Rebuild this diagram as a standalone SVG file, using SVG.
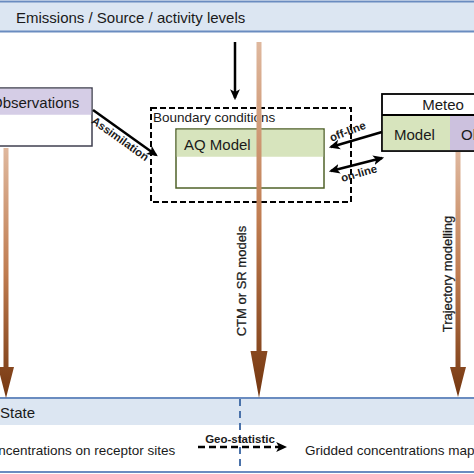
<svg xmlns="http://www.w3.org/2000/svg" width="474" height="474" viewBox="0 0 474 474">
<style>
text{font-family:"Liberation Sans",Arial,sans-serif;fill:#1a1a1a}
.t15{font-size:15px}
.lbl{font-size:11.3px;font-weight:bold}
.rot{font-size:13px;stroke:#1a1a1a;stroke-width:0.25}
.band{fill:#dce6f2}
.bline{stroke:#6a8cc0;stroke-width:2}
.conn{stroke:#000;stroke-width:2.5;fill:none}
.dash{stroke:#000;stroke-width:2.5;fill:none;stroke-dasharray:7,4}
.brown{fill:url(#brownGrad)}
</style>
<defs>
<linearGradient id="brownGrad" x1="0" y1="0" x2="0" y2="1">
<stop offset="0" stop-color="#dfb89e"/>
<stop offset="0.5" stop-color="#c07c50"/>
<stop offset="1" stop-color="#74360f"/>
</linearGradient>
<marker id="ah" viewBox="0 0 10 10" refX="8" refY="5" markerUnits="userSpaceOnUse" markerWidth="11" markerHeight="11" orient="auto-start-reverse">
<path d="M0,0.5 L10,5 L0,9.5 L2.5,5 z" fill="#000"/>
</marker>
</defs>

<g id="emissions">
<rect x="-2" y="1.5" width="478" height="30" class="band"/>
<line x1="-2" y1="1.5" x2="476" y2="1.5" class="bline"/>
<line x1="-2" y1="31.5" x2="476" y2="31.5" class="bline"/>
<text x="16" y="23" class="t15">Emissions / Source / activity levels</text>
</g>

<g id="observations">
<rect x="-10" y="88" width="102" height="58" fill="#fff" stroke="#3f3f4f" stroke-width="1.5"/>
<rect x="-9" y="88.75" width="100.25" height="26" fill="#d5cde6"/>
<text x="-9" y="108" class="t15">Observations</text>
</g>

<g id="boundary">
<rect x="151" y="108" width="200" height="94" fill="none" stroke="#000" stroke-width="2" stroke-dasharray="6,3"/>
<text x="153" y="122" style="font-size:13.5px">Boundary conditions</text>
</g>

<g id="aqmodel">
<rect x="176" y="129" width="148" height="59" fill="#fff" stroke="#4f6228" stroke-width="1.5"/>
<rect x="176.75" y="129.75" width="146.5" height="27" fill="#d7e4bd"/>
<text x="184" y="150" class="t15">AQ Model</text>
</g>

<g id="meteo">
<rect x="382" y="94" width="100" height="57" fill="#fff" stroke="#000" stroke-width="1.8"/>
<rect x="382.9" y="115" width="67.1" height="35.1" fill="#d7e4bd"/>
<rect x="450" y="115" width="30" height="35.1" fill="#ccc1de"/>
<line x1="382" y1="115" x2="482" y2="115" stroke="#000" stroke-width="1.8"/>
<text x="443" y="110" class="t15" text-anchor="middle">Meteo</text>
<text x="394" y="140" class="t15">Model</text>
<text x="461" y="140" class="t15">Observations</text>
</g>

<g id="state">
<rect x="-2" y="398" width="478" height="74" fill="#fff"/>
<rect x="-2" y="398" width="478" height="27" class="band"/>
<line x1="-2" y1="398" x2="476" y2="398" class="bline"/>
<line x1="-2" y1="472" x2="476" y2="472" class="bline"/>
<line x1="240" y1="399" x2="240" y2="471" stroke="#4a72aa" stroke-width="2" stroke-dasharray="7,5"/>
<text x="0" y="418" class="t15">State</text>
<text x="-19" y="455" style="font-size:13.5px">Concentrations on receptor sites</text>
<text x="305" y="455" style="font-size:13.5px">Gridded concentrations map</text>
</g>

<g id="connectors">
<line x1="235" y1="42" x2="235" y2="98" class="conn" marker-end="url(#ah)"/>
<line x1="93" y1="110" x2="156" y2="155" class="conn" marker-end="url(#ah)"/>
<line x1="382" y1="132" x2="331" y2="147" class="conn" marker-end="url(#ah)"/>
<line x1="331" y1="171" x2="382" y2="158" class="conn" marker-start="url(#ah)" marker-end="url(#ah)"/>
<line x1="198" y1="447" x2="285" y2="447" class="dash" marker-end="url(#ah)"/>
<path class="brown" d="M256.5,42 H261.5 V351 H267.5 L259,398 L250.5,351 H256.5 Z"/>
<path class="brown" d="M3.5,148 H8.5 V367 H14 L6,398 L-2,367 H3.5 Z"/>
<path class="brown" d="M455.5,152 H460.5 V367 H466 L458,397 L450,367 H455.5 Z"/>
<text class="lbl" text-anchor="middle" transform="translate(118,142) rotate(35.5)">Assimilation</text>
<text class="lbl" text-anchor="middle" transform="translate(349,135) rotate(-21)">off-line</text>
<text class="lbl" text-anchor="middle" transform="translate(360,177) rotate(-16)">on-line</text>
<text class="lbl" text-anchor="middle" x="240" y="443" style="font-size:11.5px">Geo-statistic</text>
<text class="rot" text-anchor="middle" transform="translate(246,281) rotate(-90)">CTM or SR models</text>
<text class="rot" text-anchor="middle" transform="translate(452,274) rotate(-90)">Trajectory modelling</text>
</g>
</svg>
